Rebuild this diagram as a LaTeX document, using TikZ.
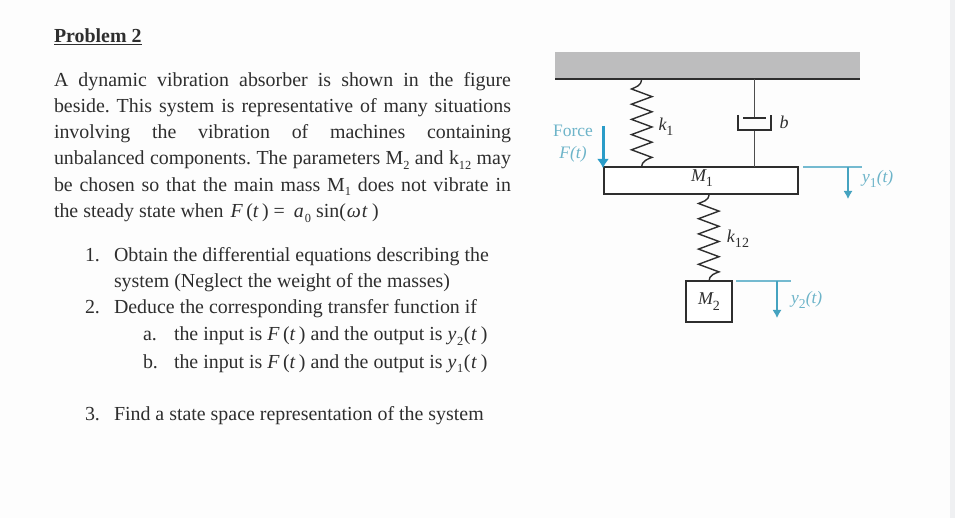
\documentclass[tikz,border=0pt]{standalone}
\usepackage{fontspec}
\setmainfont{Liberation Serif}
\usetikzlibrary{arrows.meta}
\definecolor{inkc}{HTML}{2E2E2E}
\definecolor{gnd}{HTML}{BDBDBE}
\definecolor{arrowc}{HTML}{2A9CC8}
\definecolor{labc}{HTML}{6DB4C9}
\definecolor{linec}{HTML}{45A3C0}
\definecolor{stripc}{HTML}{EFF0F2}
\definecolor{pagec}{HTML}{FDFDFD}
\newcommand{\sbs}[1]{\raisebox{-0.22em}{\scalebox{0.62}{#1}}}
\newcommand{\lsb}[1]{\raisebox{-0.3em}{\scalebox{0.78}{\upshape #1}}}
\newcommand{\mth}[1]{\textit{#1}}
\newcommand{\FT}{\mth{F}\,(\mth{t}\,)}
\newcommand{\justline}[1]{\makebox[457pt][s]{#1}}
\newcommand{\yt}[1]{\mth{y}\kern.6pt\sbs{#1}\kern.6pt(\kern.6pt\mth{t}\kern.6pt\,)}
\tikzset{
  x=1pt,y=-1pt,
  txt/.style={anchor=base west,inner sep=0pt,outer sep=0pt,text=inkc,font=\fontsize{19.9}{23}\selectfont\frenchspacing},
  mass/.style={draw=inkc,line width=1.7pt,fill=white,inner sep=0pt,outer sep=0pt,text=inkc,font=\fontsize{18}{20}\selectfont\itshape},
  coil/.style={draw=inkc,line width=1.4pt,line join=miter},
  rod/.style={draw=inkc!85,line width=1pt},
  flab/.style={inner sep=0pt,text=inkc,font=\fontsize{18}{20}\selectfont\itshape},
  blab/.style={inner sep=0pt,text=labc,font=\fontsize{17.5}{20}\selectfont},
  refline/.style={draw=linec!75,line width=1.2pt},
  disp/.style={draw=linec,line width=1.2pt,-{Latex[length=8pt,width=9pt]}},
}
% the nine zigzag strokes between the two end hooks of a spring
\newcommand{\zigs}{-- ++(20.5,7.6) -- ++(-20.5,7.6) -- ++(20.5,7.6) -- ++(-20.5,7.6) -- ++(20.5,7.6) -- ++(-20.5,7.6) -- ++(20.5,7.6) -- ++(-20.5,7.6) -- ++(20.5,7.6)}
\begin{document}
\begin{tikzpicture}
\useasboundingbox (0,0) rectangle (955,518);
\fill[pagec] (0,0) rectangle (955,518);
\fill[stripc] (950,0) rectangle (955,518);

% text
\node[txt,font=\fontsize{19.9}{23}\selectfont\bfseries] (title) at (54,43) {\underline{Problem 2}};
\node[txt] (l1) at (54,87) {\justline{A dynamic vibration absorber is shown in the figure}};
\node[txt] (l2) at (54,112.5) {\justline{beside. This system is representative of many situations}};
\node[txt] (l3) at (54,139) {\justline{involving the vibration of machines containing}};
\node[txt] (l4) at (54,165) {\justline{unbalanced components. The parameters M\sbs{2} and k\sbs{12} may}};
\node[txt] (l5) at (54,191.5) {\justline{be chosen so that the main mass M\sbs{1} does not vibrate in}};
\node[txt] (l6) at (54,218) {the steady state when \kern2pt\FT{} = \kern4pt\mth{a}\kern1pt\sbs{0}\kern5pt sin(\kern1pt\mth{ω}\kern1pt\mth{t}\kern1pt\,)};
\node[txt] (n1) at (85,262) {1.};
\node[txt] (i1) at (114,262) {Obtain the differential equations describing the};
\node[txt] (i1b) at (114,288) {system (Neglect the weight of the masses)};
\node[txt] (n2) at (85,314) {2.};
\node[txt] (i2) at (114,314) {Deduce the corresponding transfer function if};
\node[txt] (na) at (143,341) {a.};
\node[txt] (ia) at (174,341) {the input is \FT{} and the output is \yt{2}};
\node[txt] (nb) at (143,368) {b.};
\node[txt] (ib) at (174,368) {the input is \FT{} and the output is \yt{1}};
\node[txt] (n3) at (85,420) {3.};
\node[txt] (i3) at (114,420) {Find a state space representation of the system};

% structure
\node[fill=gnd,inner sep=0pt,outer sep=0pt,minimum width=305pt,minimum height=27pt] (ground) at (707.5,65.5) {};
\draw[draw=inkc,line width=2pt] (ground.south west) -- (ground.south east);
\node[mass,minimum width=194pt,minimum height=27pt] (m1) at (701,180.5) {};
\node[flab] (m1lab) at (702,178) {M\lsb{1}};
\node[mass,minimum width=46pt,minimum height=41pt] (m2) at (709,301.5) {M\lsb{2}};

% springs
\coordinate (s1a) at (641.5,79);
\coordinate (s1b) at (641.5,167);
\coordinate (s2a) at (709,194);
\coordinate (s2b) at (709,281);
\draw[coil] (s1a) .. controls +(0,7) and +(4,-2) .. ++(-10,10) \zigs .. controls +(-4,1.5) and +(0,-6) .. (s1b);
\draw[coil] (s2a) .. controls +(0,7) and +(4,-2) .. ++(-10.5,9.5) \zigs .. controls +(-4,1.5) and +(0,-6) .. (s2b);
\node[flab] (k1) at (666,127) {k\lsb{1}};
\node[flab] (k12) at (738,239) {k\lsb{12}};

% damper
\coordinate (dtop) at (754,79);
\coordinate (dpist) at (754,118);
\coordinate (dcup) at (754,130);
\coordinate (dbot) at (754,167);
\coordinate (pl) at (743,118);
\coordinate (pr) at (766,118);
\coordinate (cl) at (738,115);
\coordinate (cbl) at (738,130);
\coordinate (cbr) at (771,130);
\coordinate (cr) at (771,115);
\draw[rod] (dtop) -- (dpist);
\draw[rod] (dcup) -- (dbot);
\draw[draw=inkc,line width=1.3pt] (pl) -- (pr);
\draw[draw=inkc,line width=1.5pt] (cl) -- (cbl) -- (cbr) -- (cr);
\node[flab] (b) at (784,122) {b};

% force
\coordinate (fa) at (603,126);
\coordinate (fb) at (603,168);
\draw[draw=arrowc,line width=3pt,-{Latex[length=9pt,width=12pt]}] (fa) -- (fb);
\node[blab] (force) at (573,131) {Force};
\node[blab] (ft) at (573,154) {\itshape F(t)};

% displacement y1
\coordinate (y1a) at (803,167);
\coordinate (y1b) at (862,167);
\coordinate (y1c) at (848,167);
\coordinate (y1d) at (848,199);
\draw[refline] (y1a) -- (y1b);
\draw[disp] (y1c) -- (y1d);
\node[blab,anchor=west] (y1lab) at (862,179) {\itshape y\lsb{1}(t)};

% displacement y2
\coordinate (y2a) at (736,281);
\coordinate (y2b) at (791,281);
\coordinate (y2c) at (777,281);
\coordinate (y2d) at (777,318);
\draw[refline] (y2a) -- (y2b);
\draw[disp] (y2c) -- (y2d);
\node[blab,anchor=west] (y2lab) at (791,300) {\itshape y\lsb{2}(t)};
\end{tikzpicture}
\end{document}
